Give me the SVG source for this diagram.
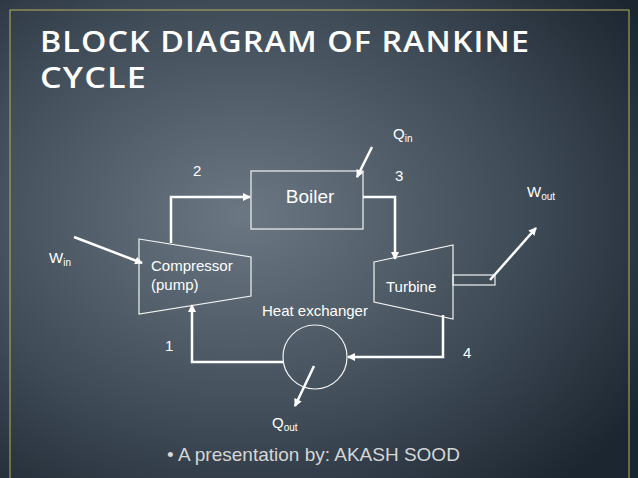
<svg xmlns="http://www.w3.org/2000/svg" width="638" height="478" viewBox="0 0 638 478">
<defs>
<radialGradient id="bg" cx="0.38" cy="0.45" r="0.75">
<stop offset="0" stop-color="#6b7883"/>
<stop offset="0.6" stop-color="#3e4a56"/>
<stop offset="1" stop-color="#1c2631"/>
</radialGradient>
<marker id="ah" markerWidth="8" markerHeight="8" refX="7" refY="4" orient="auto" markerUnits="userSpaceOnUse">
<path d="M0,0 L8,4 L0,8 Z" fill="#fff"/>
</marker>
<style>
.s{fill:none;stroke:#f2f2f2;stroke-width:1.2}
.c{fill:none;stroke:#fff;stroke-width:2.5;marker-end:url(#ah)}
.t{font-family:"Liberation Sans",Arial,sans-serif;fill:#fff;font-size:15px}
.sub{font-size:10px}
.h{font-size:29px;font-family:'Open Sans',sans-serif;font-weight:600;letter-spacing:1px}
</style>
</defs>
<rect width="638" height="478" fill="url(#bg)"/>
<rect x="10" y="10" width="619" height="470" fill="none" stroke="#b8b25a" stroke-width="1"/>
<text x="40" y="52" class="t h" textLength="490" lengthAdjust="spacingAndGlyphs">BLOCK DIAGRAM OF RANKINE</text>
<text x="40" y="88" class="t h" textLength="107" lengthAdjust="spacingAndGlyphs">CYCLE</text>
<g id="boiler"><rect x="251" y="171" width="112" height="58" class="s"/><text x="310" y="203" class="t" style="font-size:19px" text-anchor="middle">Boiler</text></g>
<g id="compressor"><path d="M139,239 L251,257 L251,296 L139,314 Z" class="s"/><text x="151" y="271" class="t">Compressor</text><text x="151" y="290" class="t">(pump)</text></g>
<g id="turbine"><path d="M374,262 L453,245 L453,319 L374,302 Z" class="s"/><rect x="453" y="275" width="42" height="10" class="s"/><text x="386" y="292" class="t">Turbine</text></g>
<g id="heatex"><circle cx="315" cy="357" r="32" class="s"/><text x="262" y="316" class="t">Heat exchanger</text></g>
<g id="connectors">
<path d="M171,243 V197 H250" class="c"/>
<path d="M363,197 H395 V259" class="c"/>
<path d="M443,315 V357 H348" class="c"/>
<path d="M283,362 H192 V305" class="c"/>
<path d="M74,237 L142,263" class="c"/>
<path d="M372,147 L357,177" class="c"/>
<path d="M490,280 L536,228" class="c"/>
<path d="M314,366 L295,406" class="c"/>
</g>
<text x="193" y="176" class="t">2</text>
<text x="395" y="181" class="t">3</text>
<text x="165" y="351" class="t">1</text>
<text x="463" y="358" class="t">4</text>
<text x="49" y="263" class="t">W<tspan class="sub" dy="3">in</tspan></text>
<text x="393" y="139" class="t">Q<tspan class="sub" dy="3">in</tspan></text>
<text x="527" y="197" class="t">W<tspan class="sub" dy="3">out</tspan></text>
<text x="272" y="428" class="t">Q<tspan class="sub" dy="3">out</tspan></text>
<text x="167" y="461" class="t" style="font-size:19px;fill:#d6d6d6">•  A presentation by: AKASH SOOD</text>
</svg>
